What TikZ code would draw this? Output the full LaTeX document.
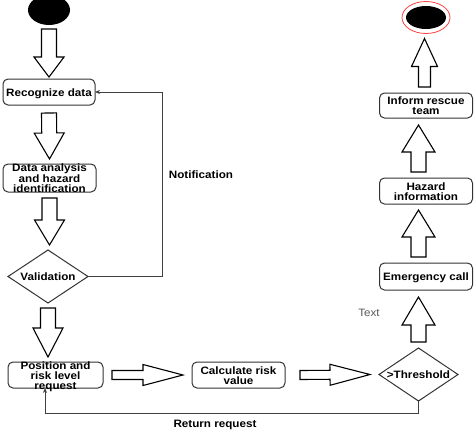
\documentclass[tikz,border=0pt]{standalone}
\usepackage{fontspec}
\setmainfont{Liberation Sans}[FakeStretch=1.09]
\usetikzlibrary{shapes.geometric,calc,arrows.meta}
\newcommand\lbl[1]{\makebox[0pt]{\raisebox{-4.6pt}[0pt][0pt]{\begin{tabular}{@{}c@{}}#1\end{tabular}}}}
% block arrow: #1 from, #2 to, #3 half shaft, #4 half head, #5 head length
\newcommand\barrow[5]{%
  \path #1 coordinate (bS);
  \path #2 coordinate (bT);
  \path ($(bT)!#5!(bS)$) coordinate (bH);
  \draw[blk] ($(bS)!#3!90:(bT)$) -- ($(bH)!#3!90:(bT)$) -- ($(bH)!#4!90:(bT)$) -- (bT)
    -- ($(bH)!#4!-90:(bT)$) -- ($(bH)!#3!-90:(bT)$) -- ($(bS)!#3!-90:(bT)$) -- cycle;}
\begin{document}
\begin{tikzpicture}[x=1pt,y=-1pt,
  every node/.style={font=\fontsize{10.7}{9.5}\selectfont\bfseries, inner sep=0pt, outer sep=0pt},
  box/.style={draw=black!80, line width=1pt, rounded corners=5pt, rectangle},
  dia/.style={draw=black!80, line width=1pt, diamond},
  blk/.style={draw=black, line width=1.1pt, fill=white, line join=miter},
  con/.style={draw=black!75, line width=0.8pt},
  tip/.style={-{Stealth[length=5pt,width=4pt]}},
]
\useasboundingbox (0,0) rectangle (474,434);

% left column
\node[ellipse, fill=black, minimum width=42pt, minimum height=30pt] (start) at (49,10) {};
\node[box, minimum width=92pt, minimum height=26pt] (rec) at (49,92) {\lbl{Recognize data}};
\node[box, minimum width=93pt, minimum height=28pt] (data) at (49.5,178) {\lbl{Data analysis\\and hazard\\identification}};
\node[dia, minimum width=80pt, minimum height=53pt] (val) at (48,276.5) {\lbl{Validation}};
\node[box, minimum width=95pt, minimum height=26pt] (pos) at (55.5,375) {\lbl{Position and\\risk level\\request}};

% bottom row
\node[box, minimum width=93pt, minimum height=26pt] (calc) at (238.5,375) {\lbl{Calculate risk\\value}};
\node[dia, minimum width=79pt, minimum height=53pt] (thr) at (418.5,374.5) {\lbl{>Threshold}};

% right column
\node[box, minimum width=93pt, minimum height=27pt] (emg) at (426,276.5) {\lbl{Emergency call}};
\node[box, minimum width=93pt, minimum height=26pt] (haz) at (426,191) {\lbl{Hazard\\information}};
\node[box, minimum width=93pt, minimum height=25pt] (inf) at (426,105.5) {\lbl{Inform rescue\\team}};
\node[ellipse, fill=black, minimum width=40pt, minimum height=23pt] (end) at (426,17.5) {};
\draw[red!75, line width=0.8pt] (end.center) ellipse [x radius=24pt, y radius=16pt];

% labels
\node (ntf) at (201,174) {\lbl{Notification}};
\node (rrq) at (215,423) {\lbl{Return request}};
\node[font=\fontsize{10.7}{9.5}\selectfont, text=black!65] (txt) at (369,312) {\lbl{Text}};

% block arrows
\barrow{($(start.south)+(0,4)$)}{($(rec.north)+(0,-2)$)}{7.5pt}{15pt}{20pt}
\barrow{($(rec.south)+(0,8)$)}{($(data.north)+(0,-5)$)}{7.5pt}{15pt}{26pt}
\barrow{($(data.south)+(0,6)$)}{($(data.south |- val.north)+(0,-5)$)}{7.5pt}{15pt}{25pt}
\barrow{($(val.south)+(0,5)$)}{($(val.south |- pos.north)+(0,-5)$)}{7.5pt}{15pt}{29pt}
\barrow{($(pos.east)+(9,0)$)}{($(calc.west)+(-9,0)$)}{4.5pt}{10.5pt}{40pt}
\barrow{($(calc.east)+(15,0)$)}{($(thr.west)+(-9,0)$)}{4.5pt}{10.5pt}{40pt}
\barrow{($(thr.north)+(0,-6)$)}{($(thr.north |- emg.south)+(0,7)$)}{7.5pt}{16.5pt}{28pt}
\barrow{($(thr.north |- emg.north)+(0,-6)$)}{($(thr.north |- haz.south)+(0,6)$)}{7.5pt}{16.5pt}{27pt}
\barrow{($(thr.north |- haz.north)+(0,-6)$)}{($(thr.north |- inf.south)+(0,7)$)}{7.5pt}{16.5pt}{27pt}
\barrow{($(inf.north)+(-1.5,-6)$)}{($(end.south)+(-1.5,9.5)$)}{6pt}{13pt}{28pt}

% thin connectors
\coordinate (lp) at (162,200);
\draw[con, tip] (val.east) -| (lp |- rec.east) -- (rec.east);
\coordinate (rr) at (45,413.5);
\draw[con, tip] (thr.south) |- (rr) -- (rr |- pos.south);
\end{tikzpicture}
\end{document}
